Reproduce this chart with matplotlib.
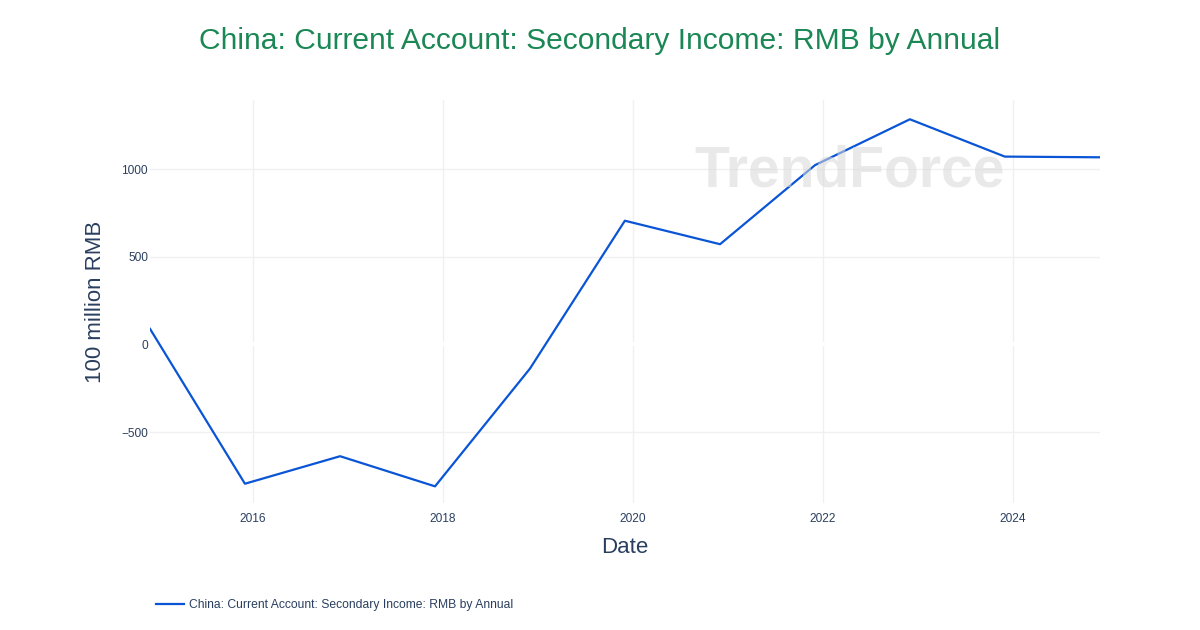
from datetime import datetime
import matplotlib
matplotlib.use("Agg")
import matplotlib.pyplot as plt
import matplotlib.dates as mdates

plt.rcParams['font.family'] = ['Liberation Sans', 'DejaVu Sans']

years = list(range(2014, 2025))
values = [89, -795, -638, -810, -138, 706, 572, 1023, 1285, 1072, 1068]
dates = [datetime(y, 12, 1) for y in years]

title = "China: Current Account: Secondary Income: RMB by Annual"
series_name = "China: Current Account: Secondary Income: RMB by Annual"
ytick_vals = [-500, 0, 500, 1000]
ytick_labels = ["\u2212500", "0", "500", "1000"]
xtick_years = [2016, 2018, 2020, 2022, 2024]

text_col = "#2a3f5f"
grid_col = "#f0f0f2"

fig = plt.figure(figsize=(12, 6.3), dpi=100)
ax = fig.add_axes([150 / 1200, 1 - 503 / 630, 950 / 1200, 403 / 630])
ax.set_axisbelow(True)

ax.plot(dates, values, color="#0a55d6", lw=1.6, zorder=4, label=series_name)

ax.set_xlim(dates[0], dates[-1])
ax.set_ylim(-905, 1395)

ax.set_xticks([datetime(y, 1, 1) for y in xtick_years])
ax.xaxis.set_major_formatter(mdates.DateFormatter("%Y"))
ax.set_yticks(ytick_vals)
ax.set_yticklabels(ytick_labels)

ax.grid(True, color=grid_col, lw=1)
ax.axhline(0, color="white", lw=3, zorder=2)
for s in ax.spines.values():
    s.set_visible(False)
ax.tick_params(length=0, labelsize=8.6, labelcolor=text_col)
ax.tick_params(axis="y", pad=1.5)
ax.tick_params(axis="x", pad=7)

ax.set_xlabel("Date", fontsize=16, color=text_col, labelpad=9)
ax.set_ylabel("100 million RMB", fontsize=16, color=text_col, labelpad=11)

# watermark
fig.text(0.579, 0.727, "TrendForce", fontsize=41, fontweight="bold",
         color="#d8d8d8", alpha=0.55, ha="left", va="center", zorder=0)

fig.suptitle(title, x=0.5, y=0.957, fontsize=21.6, color="#1a8754")

leg = fig.legend(loc="center left", bbox_to_anchor=(0.121, 1 - 605 / 630),
                 frameon=False, fontsize=8.7, handlelength=2.3,
                 handletextpad=0.45)
for t in leg.get_texts():
    t.set_color(text_col)

fig.savefig("out.png", dpi=100, facecolor="white")
